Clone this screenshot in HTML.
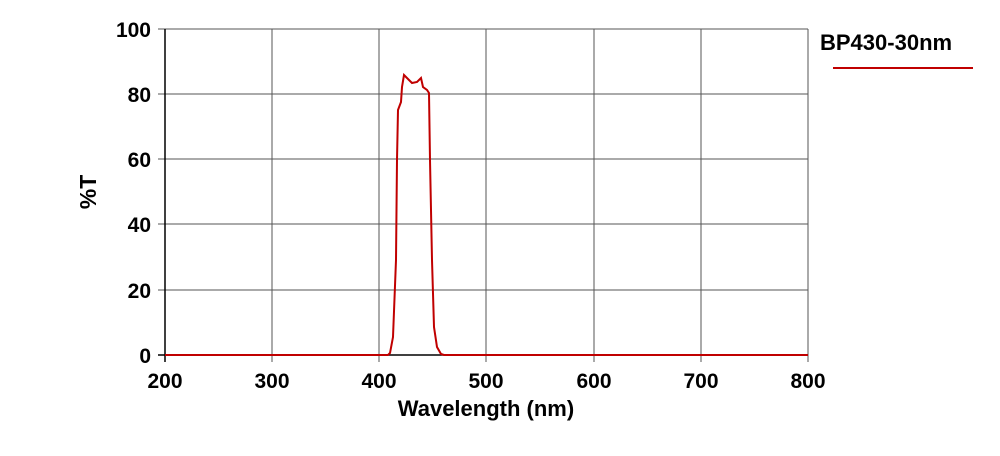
<!DOCTYPE html>
<html><head><style>body{margin:0;background:#fff}</style></head><body>
<svg width="1000" height="451" xmlns="http://www.w3.org/2000/svg" font-family="Liberation Sans, Arial, sans-serif" font-weight="bold">
<rect width="1000" height="451" fill="#fff"/>
<g stroke="#555" stroke-width="1">
<line x1="158" y1="29" x2="808" y2="29"/>
<line x1="158" y1="94" x2="808" y2="94"/>
<line x1="158" y1="159" x2="808" y2="159"/>
<line x1="158" y1="224" x2="808" y2="224"/>
<line x1="158" y1="290" x2="808" y2="290"/>
<line x1="272" y1="29" x2="272" y2="362"/>
<line x1="379" y1="29" x2="379" y2="362"/>
<line x1="486" y1="29" x2="486" y2="362"/>
<line x1="594" y1="29" x2="594" y2="362"/>
<line x1="701" y1="29" x2="701" y2="362"/>
<line x1="808" y1="29" x2="808" y2="362"/>
</g>
<g stroke="#000" stroke-width="1.5">
<line x1="165" y1="29" x2="165" y2="362"/>
<line x1="158" y1="355" x2="808" y2="355"/>
</g>
<polyline fill="none" stroke="#c00000" stroke-width="2" points="165,355 388,355 390,353 393,337 396,260 397,160 398,110 401,102 402,87 404,75 407,78 412,83 417,82 421,78 423,87 427,90 429,93 430,160 432,260 434,327 437,347 441,354 444,355 808,355"/>
<g font-size="21" text-anchor="end">
<text x="151" y="37">100</text>
<text x="151" y="102">80</text>
<text x="151" y="167">60</text>
<text x="151" y="232">40</text>
<text x="151" y="298">20</text>
<text x="151" y="363">0</text>
</g>
<g font-size="21" text-anchor="middle">
<text x="165" y="388">200</text>
<text x="272" y="388">300</text>
<text x="379" y="388">400</text>
<text x="486" y="388">500</text>
<text x="594" y="388">600</text>
<text x="701" y="388">700</text>
<text x="808" y="388">800</text>
<text x="486" y="416" font-size="22">Wavelength (nm)</text>
</g>
<text x="0" y="0" font-size="23" text-anchor="middle" transform="translate(96,192) rotate(-90)">%T</text>
<text x="820" y="50" font-size="22">BP430-30nm</text>
<line x1="833" y1="68" x2="973" y2="68" stroke="#c00000" stroke-width="2"/>
</svg>
</body></html>
